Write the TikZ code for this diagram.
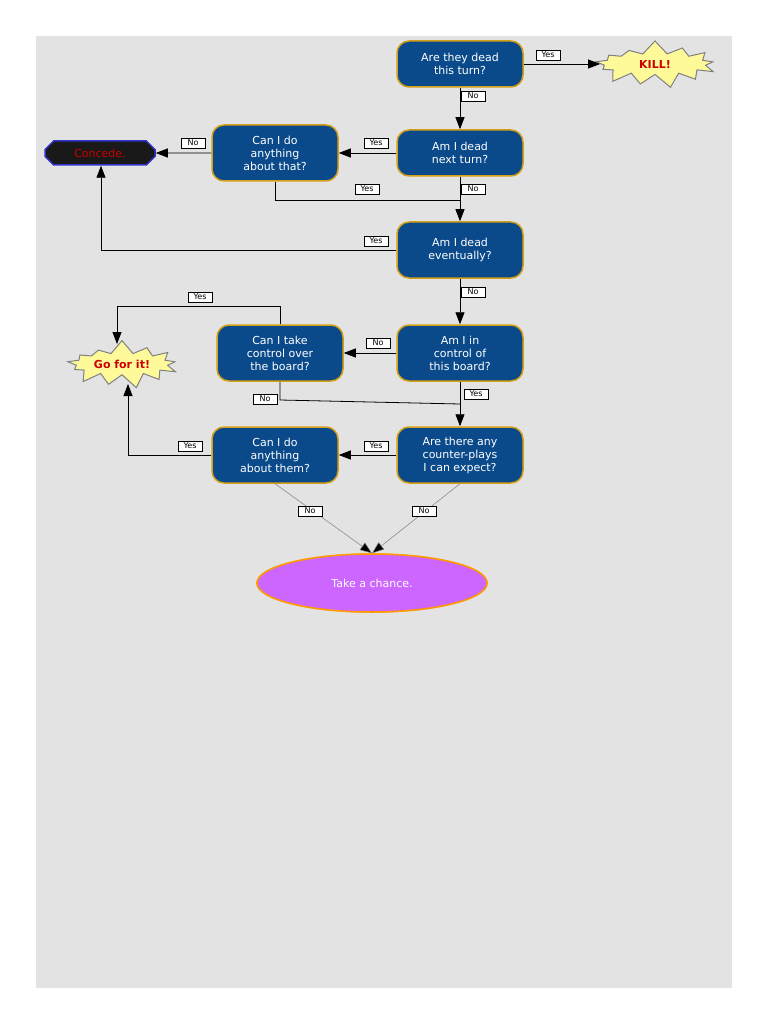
\documentclass[tikz,border=0pt]{standalone}
\usepackage{fontspec}
\setmainfont{DejaVu Sans}
\usetikzlibrary{shapes.symbols,shapes.misc,shapes.geometric,arrows.meta}
\definecolor{qblue}{HTML}{0B4A8A}
\definecolor{qgold}{HTML}{D4A017}
\definecolor{bg}{HTML}{E3E3E3}
\begin{document}
\begin{tikzpicture}[x=1pt,y=-1pt,
  q/.style={rounded corners=12pt,fill=qblue,draw=qgold,line width=1.5pt,text=white,minimum width=126pt,minimum height=46pt,align=center,font=\fontsize{11}{13}\selectfont,inner sep=1pt},
  lab/.style={fill=white,draw=black,line width=0.5pt,font=\fontsize{8}{9}\selectfont,inner sep=2pt,minimum width=24pt},
  burst/.style={starburst,starburst points=13,starburst point height=14pt,random starburst=7,fill=yellow!40,draw=gray,line width=1pt,text=red!80!black,font=\bfseries\fontsize{11}{13}\selectfont},
  arr/.style={draw=black,line width=0.8pt,-{Triangle[length=12pt,width=9pt]}},
  thin/.style={draw=gray,line width=0.5pt,-{Triangle[length=12pt,width=9pt,fill=black]}}]
\useasboundingbox (0,0) rectangle (768,1024);
\fill[white] (0,0) rectangle (768,1024);
\fill[bg] (36,36) rectangle (732,988);
\node[q] (A) at (460,64) {Are they dead\\this turn?};
\node[burst,minimum width=130pt,minimum height=40pt] (K) at (655,64) {KILL!};
\node[q] (B) at (460,153) {Am I dead\\next turn?};
\node[q,minimum height=56pt] (C) at (275,153) {Can I do\\anything\\about that?};
\node[chamfered rectangle,chamfered rectangle xsep=5pt,fill=black!90,draw=blue!60!gray,line width=1.5pt,text=red!80!black,minimum width=110pt,minimum height=24pt,font=\fontsize{11}{13}\selectfont] (X) at (100,153) {Concede.};
\node[q,minimum height=56pt] (D) at (460,250) {Am I dead\\eventually?};
\node[q,minimum height=56pt] (E) at (460,353) {Am I in\\control of\\this board?};
\node[q,minimum height=56pt] (F) at (280,353) {Can I take\\control over\\the board?};
\node[burst,minimum width=120pt,minimum height=44pt] (Go) at (122,364) {Go for it!};
\node[q,minimum height=56pt] (G) at (460,455) {Are there any\\counter-plays\\I can expect?};
\node[q,minimum height=56pt] (H) at (275,455) {Can I do\\anything\\about them?};
\node[ellipse,fill=violet!40!magenta!60,fill=purple!30!violet!70!white,draw=orange!80!yellow,line width=1.5pt,text=white,minimum width=230pt,minimum height=58pt,font=\fontsize{11}{13}\selectfont] (T) at (372,583) {Take a chance.};
\definecolor{tc}{HTML}{CC66FF}
\node[ellipse,fill=tc,draw=orange!80!yellow,line width=1.5pt,text=white,minimum width=230pt,minimum height=58pt,font=\fontsize{11}{13}\selectfont] at (372,583) {Take a chance.};
% edges
\draw[arr] (A) -- (K.west |- A) coordinate (k1);
\draw[arr] (A) -- (B);
\draw[arr] (B) -- (C);
\draw[arr] (C) -- (X);
\draw[arr] (B) -- (D);
\coordinate (c1) at (275,200);
\coordinate (c2) at (460,200);
\draw[line width=0.8pt] (C.south) -- (c1) -- (c2);
\coordinate (d1) at (101,250);
\draw[arr] (D.west) -- (d1) -- (X.south -| d1);
\draw[arr] (D) -- (E);
\draw[arr] (E) -- (F);
\coordinate (f1) at (280,306);
\coordinate (f2) at (117,306);
\draw[arr] (F.north) -- (f1) -- (f2) -- (117,344);
\draw[arr] (E) -- (G);
\coordinate (f3) at (280,400);
\coordinate (f4) at (460,404);
\draw[line width=0.8pt] (F.south) -- (f3) -- (f4);
\draw[arr] (G) -- (H);
\coordinate (h1) at (128,455);
\draw[arr] (H.west) -- (h1) -- (128,384);
\draw[thin] (H.south) -- (T.north);
\draw[thin] (G.south) -- (T.north);
% labels
\node[lab] at (548,55) {Yes};
\node[lab] at (473,96) {No};
\node[lab] at (376,143) {Yes};
\node[lab] at (193,143) {No};
\node[lab] at (473,189) {No};
\node[lab] at (367,189) {Yes};
\node[lab] at (376,241) {Yes};
\node[lab] at (473,292) {No};
\node[lab] at (378,343) {No};
\node[lab] at (200,297) {Yes};
\node[lab] at (476,394) {Yes};
\node[lab] at (265,399) {No};
\node[lab] at (376,446) {Yes};
\node[lab] at (190,446) {Yes};
\node[lab] at (310,511) {No};
\node[lab] at (424,511) {No};
\end{tikzpicture}
\end{document}
